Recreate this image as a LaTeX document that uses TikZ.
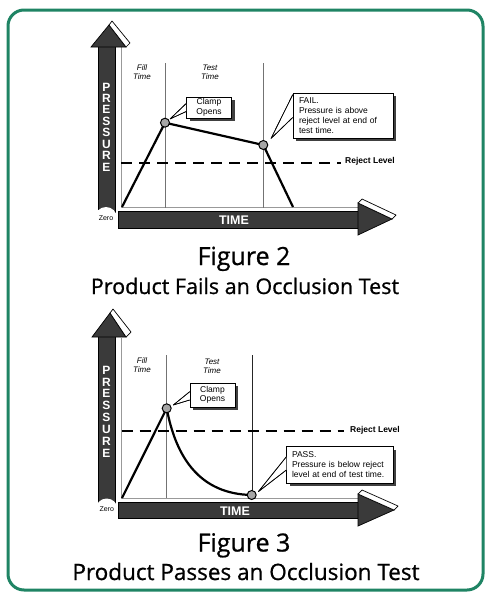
\documentclass[tikz,border=0pt]{standalone}
\usepackage{fontspec}
\setmainfont{Liberation Sans}
\newfontfamily\capfont[FakeBold=0.8]{Open Sans}
\usetikzlibrary{calc}
\definecolor{bordergreen}{RGB}{31,132,100}
\definecolor{shaftgray}{RGB}{58,58,58}
\begin{document}
\begin{tikzpicture}[x=1pt,y=-1pt,
  shaft/.style={fill=shaftgray,draw=black,line width=0.7pt},
  bevel/.style={fill=white,draw=black,line width=0.7pt,line join=round},
  axisline/.style={draw=black!40,line width=1pt},
  guide/.style={draw=black!55,line width=0.9pt},
  darkguide/.style={draw=black!85,line width=1.1pt},
  curve/.style={draw=black,line width=2.2pt,line join=round},
  rejectline/.style={draw=black,line width=1.8pt,dash pattern=on 11pt off 7pt},
  dotmark/.style={circle,draw=black,line width=1pt,fill=black!35,minimum size=9pt,inner sep=0pt},
  callbox/.style={draw=black,line width=0.6pt,fill=white,inner sep=0pt,font=\fontsize{8.5}{10}\selectfont},
  shadowbox/.style={fill=black!75},
  wedge/.style={draw=black,line width=0.6pt,fill=white,line join=round},
  letter/.style={text=white,font=\bfseries\fontsize{12}{12}\selectfont,inner sep=0pt},
  timetext/.style={text=white,font=\bfseries\fontsize{12.5}{13}\selectfont,inner sep=0pt},
  zerotext/.style={font=\fontsize{7}{8}\selectfont,inner sep=0pt},
  phase/.style={font=\itshape\fontsize{8}{9}\selectfont,align=center,inner sep=0pt},
  rejtext/.style={font=\bfseries\fontsize{8.5}{9}\selectfont,inner sep=0pt,anchor=west},
  figtitle/.style={font=\capfont\fontsize{25}{30}\selectfont,inner sep=0pt,anchor=base},
  figsub/.style={font=\capfont\fontsize{21.5}{24}\selectfont,inner sep=0pt,anchor=base}
]
\path[use as bounding box] (0,0) rectangle (492,597);
% border
\draw[bordergreen,line width=3pt,rounded corners=16pt] (8,10) rectangle (483,590);

%% ================= Figure 2 =================
\draw[axisline] (121,47) -- (121,207.5) -- (358,207.5);
\draw[shaft] (98,46) rectangle (115,216);
\draw[shaft] (91,47) -- (109,25) -- (126,47) -- cycle;
\draw[bevel] (109,25) -- (112,21) -- (130,43) -- (126,47) -- cycle;
\draw[shaft] (118,211) rectangle (360,228);
\draw[shaft] (358,203) -- (392,219) -- (358,235) -- cycle;
\draw[bevel] (358,203) -- (362,199) -- (396,215) -- (392,219) -- cycle;
\fill[white] (106,218) circle (11);
\node[zerotext] (zero2) at (106,218) {Zero};
\foreach \ch [count=\i from 0] in {P,R,E,S,S,U,R,E}
  \node[letter] (pa2-\i) at (106.5,{87+\i*11.43}) {\ch};
\node[timetext] (time2) at (234,220) {TIME};
\draw[guide] (165,63) -- (165,207.5);
\draw[guide] (263.3,63) -- (263.3,207.5);
\node[phase] (fill2) at (142,72) {Fill\\Time};
\node[phase] (test2) at (210,72) {Test\\Time};
\coordinate (rl2a) at (121,162.7);
\coordinate (rl2b) at (341,162.7);
\draw[rejectline] (rl2a) -- (rl2b);
\node[rejtext] (rej2) at (345,161.5) {Reject Level};
\coordinate (o2) at (122,207);
\coordinate (p2) at (165,122.7);
\coordinate (f2) at (263.3,145);
\coordinate (e2) at (293,207);
\draw[curve] (o2) -- (p2) -- (f2) -- (e2);
\fill[shadowbox] (189.5,100) rectangle (234.5,121);
\node[callbox,minimum width=45pt,minimum height=21pt,align=center,font=\fontsize{8.5}{9.5}\selectfont] (clamp2) at (209,107.5) {Clamp\\Opens};
\fill[wedge] ($(clamp2.west)+(0,-4)$) -- ($(p2)+(5,-3.7)$) -- ($(clamp2.west)+(0,4)$);
\draw[wedge,fill=none] ($(clamp2.west)+(0,-4)$) -- ($(p2)+(5,-3.7)$) -- ($(clamp2.west)+(0,4)$);
\fill[shadowbox] (296,96) rectangle (396,141);
\node[callbox,minimum width=100pt,minimum height=45pt,text width=88pt,align=left] (fail) at (343,115.5) {FAIL.\\Pressure is above\\reject level at end of\\test time.};
\fill[wedge] ($(fail.north west)+(0,2)$) -- ($(f2)+(7.7,-6.5)$) -- ($(fail.west)+(0,2)$);
\draw[wedge,fill=none] ($(fail.north west)+(0,2)$) -- ($(f2)+(7.7,-6.5)$) -- ($(fail.west)+(0,2)$);
\node[dotmark] (dp2) at (p2) {};
\node[dotmark] (df2) at (f2) {};
\node[figtitle] (t2) at (244,265) {Figure 2};
\node[figsub] (s2) at (245,294) {Product Fails an Occlusion Test};

%% ================= Figure 3 =================
\draw[axisline] (121.7,338) -- (121.7,498.3) -- (358,498.3);
\draw[shaft] (98,336) rectangle (115,507);
\draw[shaft] (92,337) -- (110,313) -- (126,337) -- cycle;
\draw[bevel] (110,313) -- (113,309) -- (131,332) -- (126,337) -- cycle;
\draw[shaft] (118,502) rectangle (360,518);
\draw[shaft] (358,494) -- (394,510) -- (358,526) -- cycle;
\draw[bevel] (358,494) -- (362,490) -- (398,506) -- (394,510) -- cycle;
\fill[white] (106.7,509.5) circle (11);
\node[zerotext] (zero3) at (106.7,509.5) {Zero};
\foreach \ch [count=\i from 0] in {P,R,E,S,S,U,R,E}
  \node[letter] (pa3-\i) at (106.5,{370+\i*11.9}) {\ch};
\node[timetext] (time3) at (235,511) {TIME};
\draw[guide] (166.7,355) -- (166.7,498.3);
\draw[darkguide] (252.3,355) -- (252.3,498.3);
\node[phase] (fill3) at (142,365.5) {Fill\\Time};
\node[phase] (test3) at (212,366) {Test\\Time};
\coordinate (rl3a) at (121.7,431);
\coordinate (rl3b) at (344,431);
\draw[rejectline] (rl3a) -- (rl3b);
\node[rejtext] (rej3) at (350,430) {Reject Level};
\coordinate (o3) at (122,498);
\coordinate (p3) at (166.7,408.3);
\coordinate (f3) at (251.7,495);
\draw[curve] (o3) -- (p3) .. controls (176,458) and (200,494) .. (f3);
\fill[shadowbox] (193,386) rectangle (238,410);
\node[callbox,minimum width=45pt,minimum height=24pt,align=center,font=\fontsize{8.5}{9.5}\selectfont] (clamp3) at (212.5,395) {Clamp\\Opens};
\fill[wedge] ($(clamp3.west)+(0,-3.3)$) -- ($(p3)+(6.6,-3.3)$) -- ($(clamp3.west)+(0,5)$);
\draw[wedge,fill=none] ($(clamp3.west)+(0,-3.3)$) -- ($(p3)+(6.6,-3.3)$) -- ($(clamp3.west)+(0,5)$);
\fill[shadowbox] (289.7,449.7) rectangle (396.3,486.3);
\node[callbox,minimum width=106.6pt,minimum height=36.6pt,text width=96pt,align=left] (pass) at (340,465) {PASS.\\Pressure is below reject\\level at end of test time.};
\fill[wedge] ($(pass.west)+(0,-8.3)$) -- ($(f3)+(6.6,-3.3)$) -- ($(pass.west)+(0,5)$);
\draw[wedge,fill=none] ($(pass.west)+(0,-8.3)$) -- ($(f3)+(6.6,-3.3)$) -- ($(pass.west)+(0,5)$);
\node[dotmark] (dp3) at (p3) {};
\node[dotmark] (df3) at (f3) {};
\node[figtitle] (t3) at (244,551.5) {Figure 3};
\node[figsub,font=\capfont\fontsize{22.5}{24}\selectfont] (s3) at (246,580) {Product Passes an Occlusion Test};
\end{tikzpicture}
\end{document}
